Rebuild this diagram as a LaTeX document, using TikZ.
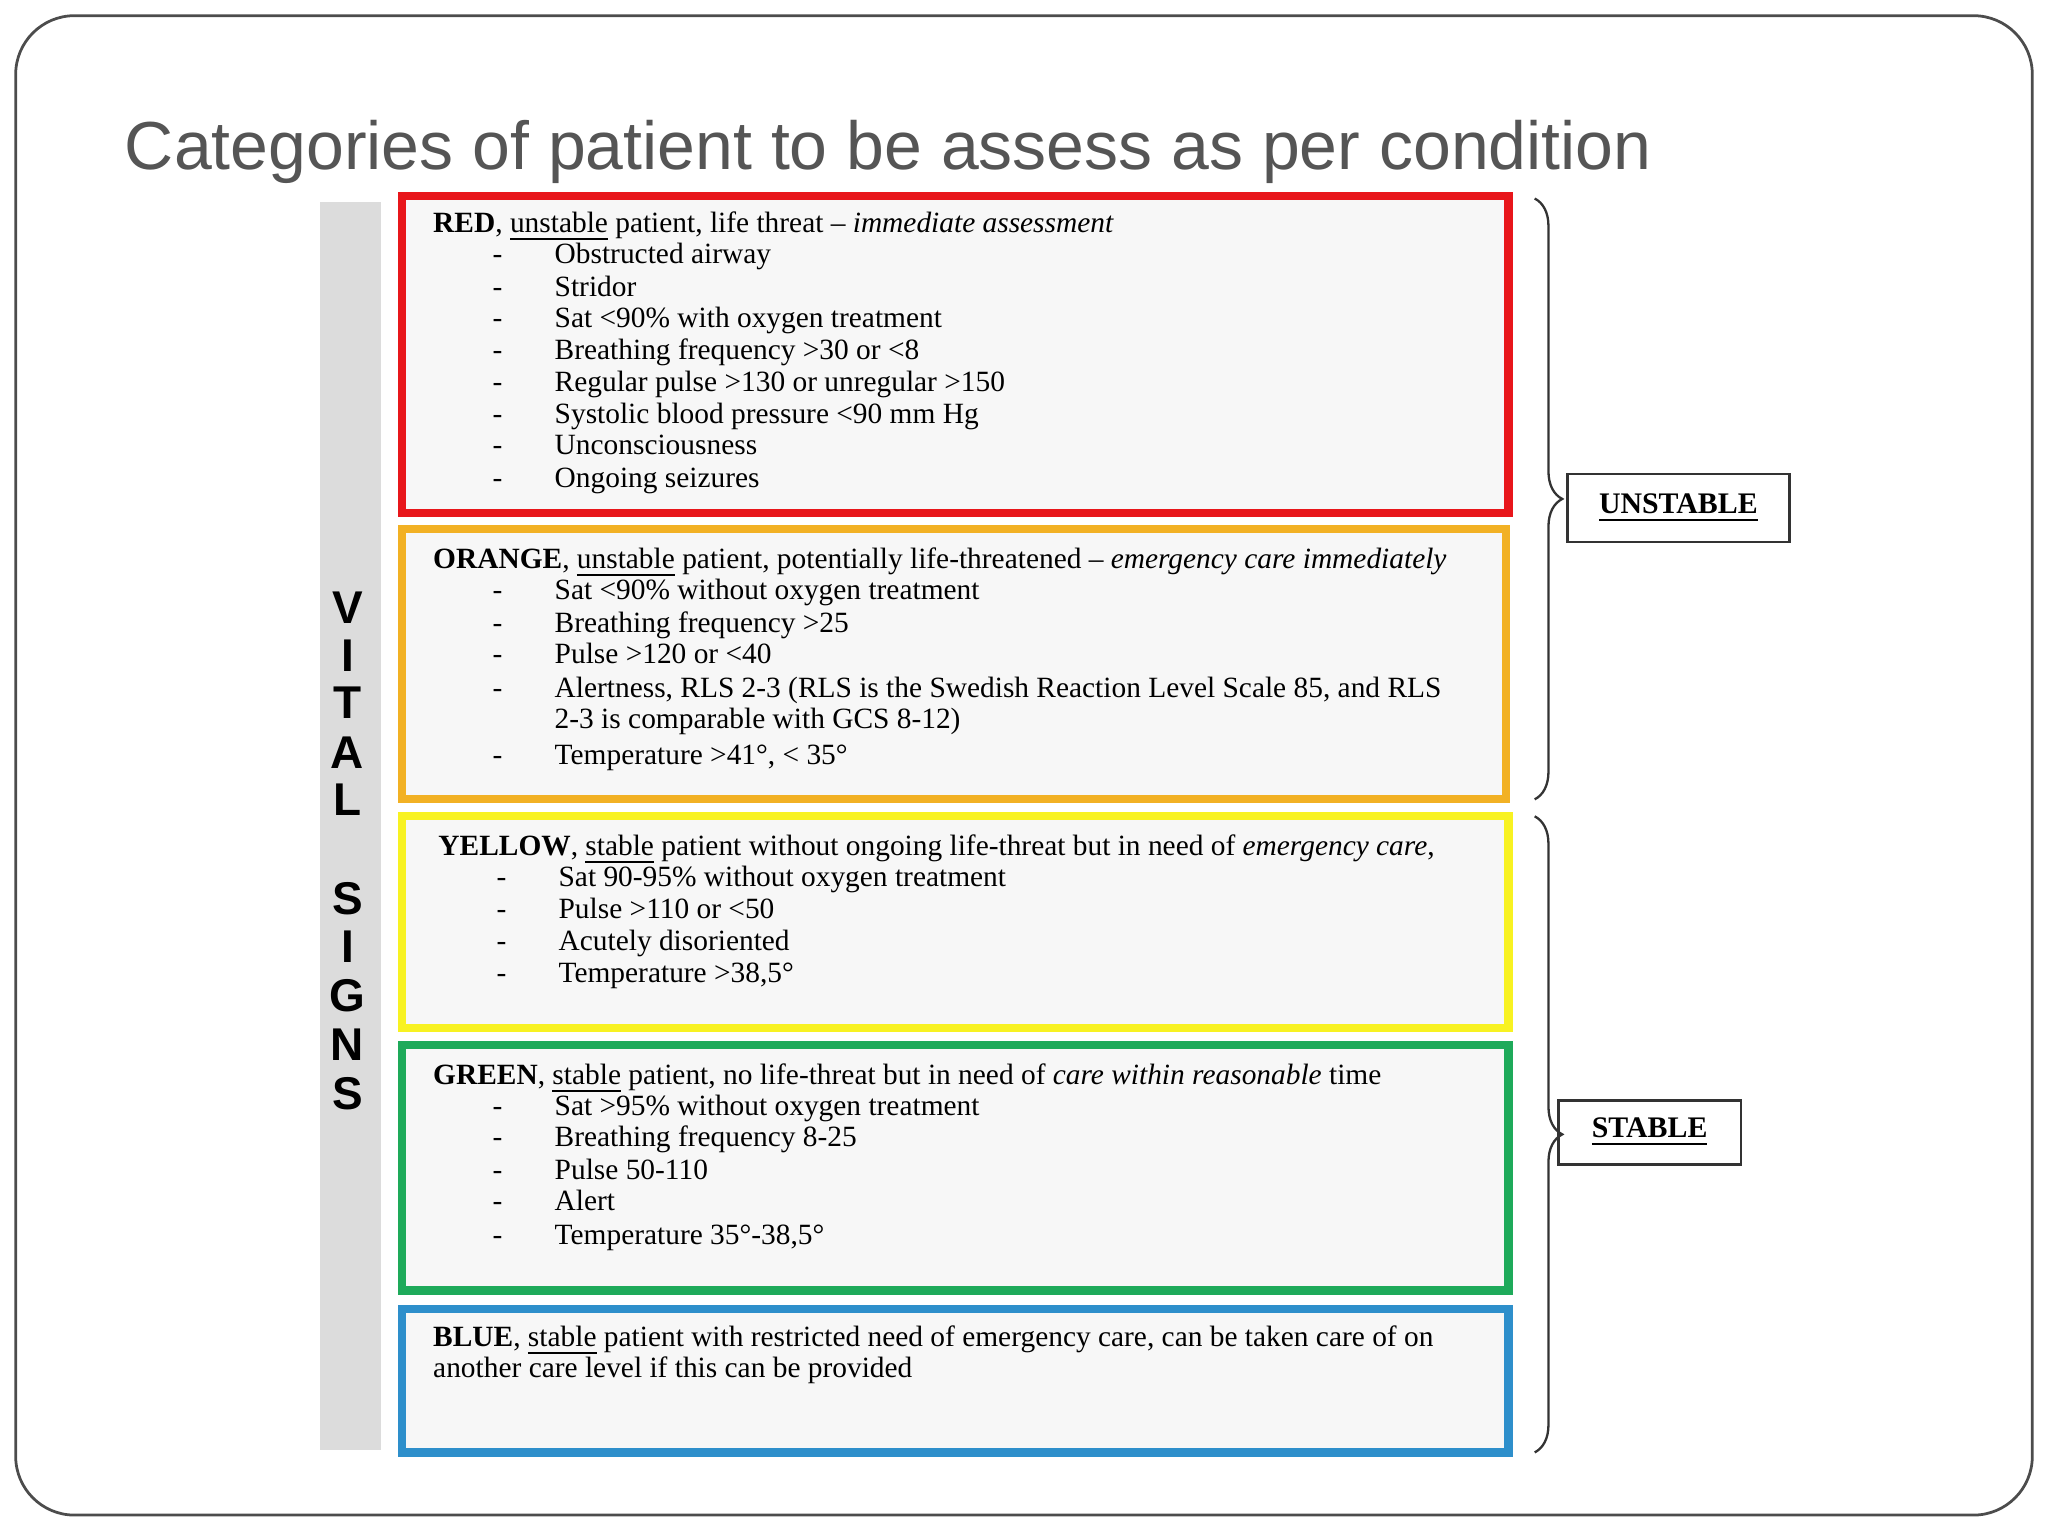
\documentclass[tikz,border=0pt]{standalone}
\usepackage{fontspec}
\setmainfont{Liberation Serif}
\newfontfamily\titlefont{Liberation Sans}
\usetikzlibrary{decorations.pathreplacing}
\definecolor{cred}{HTML}{E8161B}
\definecolor{corange}{HTML}{F2B124}
\definecolor{cyellow}{HTML}{F8F222}
\definecolor{cgreen}{HTML}{1EAA5A}
\definecolor{cblue}{HTML}{2E8FCB}
\definecolor{ctitle}{HTML}{555555}
\definecolor{cbar}{HTML}{DCDCDC}
\definecolor{cfill}{HTML}{F7F7F7}
\tikzset{
  catbox/.style={line width=1.8pt, fill=cfill},
  ln/.style={anchor=base west, inner sep=0pt, font=\fontsize{6.4}{7}\selectfont},
  dsh/.style={anchor=base, inner sep=0pt, font=\fontsize{6.4}{7}\selectfont},
  vl/.style={anchor=center, inner sep=0pt, font=\titlefont\bfseries\fontsize{10}{10}\selectfont},
  tag/.style={draw=black!80, line width=0.6pt, inner sep=0pt, font=\bfseries\fontsize{6.5}{7}\selectfont},
  brc/.style={decorate, decoration={brace, amplitude=6pt}, line width=0.5pt, black!80}
}
\begin{document}
\begin{tikzpicture}[x=0.01cm,y=-0.01cm]
\useasboundingbox (0,0) rectangle (1568,1176);
\draw[black!70, line width=0.6pt, rounded corners=0.45cm] (12,12) rectangle (1556,1160);
\node[anchor=base west, inner sep=0pt, text=ctitle, font=\titlefont\fontsize{14.8}{16}\selectfont] (title) at (95,130) {Categories of patient to be assess as per condition};
\fill[cbar] (245,155) rectangle (292,1110);
\foreach \l/\y [count=\i] in {V/465,I/502,T/538,A/576,L/612,S/688,I/725,G/762,N/800,S/837}
  \node[vl] (v\i) at (266,\y) {\l};
% boxes
\draw[catbox, draw=cred] (308,150) rectangle (1155,393);
\draw[catbox, draw=corange] (308,405) rectangle (1153,612);
\draw[catbox, draw=cyellow] (308,625) rectangle (1155,787);
\draw[catbox, draw=cgreen] (308,800) rectangle (1155,988);
\draw[catbox, draw=cblue] (308,1002) rectangle (1155,1112);
% red
\node[ln] (r0) at (331,178) {\textbf{RED}, \underline{unstable} patient, life threat -- \textit{immediate assessment}};
\foreach \t/\y [count=\i] in {Obstructed airway/202,Stridor/227,Sat <90\% with oxygen treatment/251,Breathing frequency >30 or <8/275,Regular pulse >130 or unregular >150/300,Systolic blood pressure <90 mm Hg/324,Unconsciousness/348,Ongoing seizures/373}
 {\node[dsh] (rd\i) at (381,\y) {-}; \node[ln] (r\i) at (424,\y) {\t};}
% orange
\node[ln] (o0) at (331,435) {\textbf{ORANGE}, \underline{unstable} patient, potentially life-threatened -- \textit{emergency care immediately}};
\foreach \t/\y [count=\i] in {Sat <90\% without oxygen treatment/459,Breathing frequency >25/484,Pulse >120 or <40/508,{Alertness, RLS 2-3 (RLS is the Swedish Reaction Level Scale 85, and RLS}/534,{Temperature >41°, < 35°}/585}
 {\node[dsh] (od\i) at (381,\y) {-}; \node[ln] (o\i) at (424,\y) {\t};}
\node[ln] (o6) at (424,558) {2-3 is comparable with GCS 8-12)};
% yellow
\node[ln] (y0) at (335,655) {\textbf{YELLOW}, \underline{stable} patient without ongoing life-threat but in need of \textit{emergency care},};
\foreach \t/\y [count=\i] in {Sat 90-95\% without oxygen treatment/679,Pulse >110 or <50/703,Acutely disoriented/728,{Temperature >38,5°}/752}
 {\node[dsh] (yd\i) at (384,\y) {-}; \node[ln] (y\i) at (427,\y) {\t};}
% green
\node[ln] (g0) at (331,830) {\textbf{GREEN}, \underline{stable} patient, no life-threat but in need of \textit{care within reasonable} time};
\foreach \t/\y [count=\i] in {Sat >95\% without oxygen treatment/854,Breathing frequency 8-25/878,Pulse 50-110/903,Alert/927,{Temperature 35°-38,5°}/953}
 {\node[dsh] (gd\i) at (381,\y) {-}; \node[ln] (g\i) at (424,\y) {\t};}
% blue
\node[ln] (b0) at (331,1031) {\textbf{BLUE}, \underline{stable} patient with restricted need of emergency care, can be taken care of on};
\node[ln] (b1) at (331,1055) {another care level if this can be provided};
% braces
\coordinate (u1) at (1175,152); \coordinate (u2) at (1175,612);
\coordinate (s1) at (1175,625); \coordinate (s2) at (1175,1112);
\draw[brc] (u1) -- (u2);
\draw[brc] (s1) -- (s2);
\node[tag, minimum width=1.7cm, minimum height=0.52cm] (unst) at (1285,389) {\underline{UNSTABLE}};
\node[tag, minimum width=1.4cm, minimum height=0.49cm] (stab) at (1263,867) {\underline{STABLE}};
\end{tikzpicture}
\end{document}
